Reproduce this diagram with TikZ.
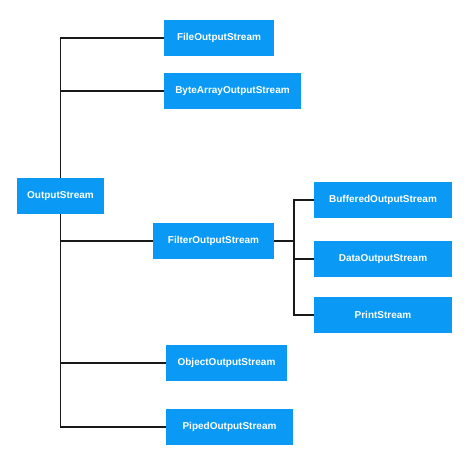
\documentclass[tikz,border=0pt]{standalone}
\usepackage{fontspec}
\setmainfont{Liberation Sans}
\definecolor{boxblue}{RGB}{10,153,245}
\begin{document}
\begin{tikzpicture}[x=1pt,y=-1pt,
  cls/.style={draw=none,fill=boxblue,text=white,font=\bfseries\fontsize{10}{12}\selectfont,
    minimum height=36pt,inner sep=0pt,anchor=center},
  link/.style={draw=black!90,line width=1.7pt}]
\useasboundingbox (0,0) rectangle (474,456);
\node[cls,minimum width=87pt] (os) at (60.5,196) {OutputStream};
\node[cls,minimum width=110pt] (file) at (219,38) {FileOutputStream};
\node[cls,minimum width=137pt] (byte) at (232.5,91) {ByteArrayOutputStream};
\node[cls,minimum width=121pt] (filter) at (213.5,241) {FilterOutputStream};
\node[cls,minimum width=138pt] (buf) at (383,200) {BufferedOutputStream};
\node[cls,minimum width=138pt] (data) at (383,259) {DataOutputStream};
\node[cls,minimum width=138pt] (print) at (383,315) {PrintStream};
\node[cls,minimum width=121pt] (obj) at (226.5,363) {ObjectOutputStream};
\node[cls,minimum width=127pt] (piped) at (229.5,427) {PipedOutputStream};
\coordinate (fb) at (294,241);
\draw[link] (os.north) |- (file.west);
\draw[link] (os.north) |- (byte.west);
\draw[link] (os.south) |- (filter.west);
\draw[link] (os.south) |- (obj.west);
\draw[link] (os.south) |- (piped.west);
\draw[link] (filter.east) -- (fb);
\draw[link] (fb) |- (buf.west);
\draw[link] (fb) |- (data.west);
\draw[link] (fb) |- (print.west);
\end{tikzpicture}
\end{document}
